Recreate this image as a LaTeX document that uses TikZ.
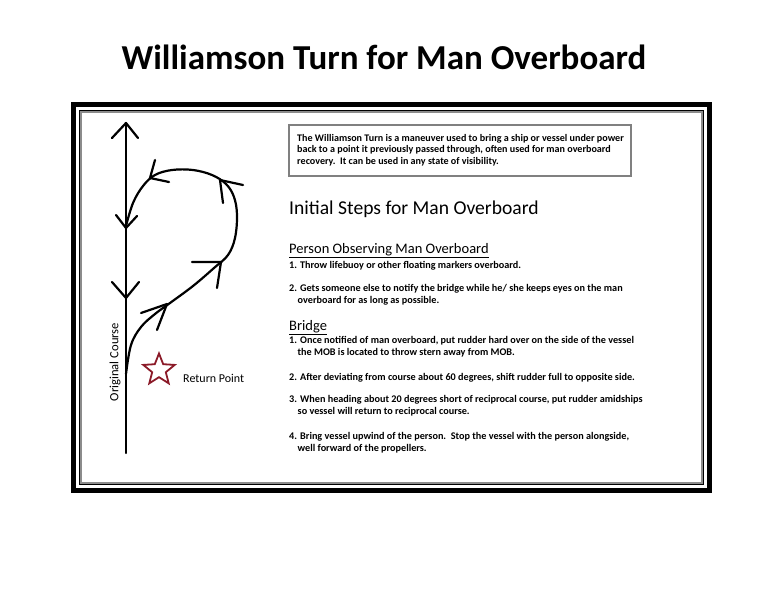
\documentclass[tikz,border=0pt]{standalone}
\usepackage{fontspec}
\setmainfont{Carlito}
\usetikzlibrary{shapes.geometric}

\definecolor{starred}{RGB}{139,26,40}
\definecolor{boxgray}{RGB}{128,128,128}

\tikzset{
  txt/.style={anchor=west,inner sep=0pt,align=left,font=\fontsize{10.2}{12}\selectfont\bfseries},
  head/.style={anchor=west,inner sep=0pt},
  course/.style={line width=2.2pt,line cap=round,line join=round}
}

\newcommand{\hang}{\hspace*{8.5pt}}

\begin{document}
\begin{tikzpicture}[x=1pt,y=-1pt]
\useasboundingbox (0,0) rectangle (768,594);

% title
\node[inner sep=0pt,font=\fontsize{35}{40}\selectfont\bfseries] (title) at (384,57) {Williamson Turn for Man Overboard};

% frame
\draw[line width=5pt] (73,104.5) rectangle (709.5,490);
\draw[black!45,line width=2pt] (80.5,111.5) rectangle (702,483);
\draw[line width=0.8pt] (79,110) rectangle (703.5,484.5);

% original course line
\draw[course] (126,123)--(126,453);
\draw[course] (112,138)--(126,123)--(138,138);
\draw[course] (116,215)--(126,228)--(137,216);
\draw[course] (112,282)--(126,298)--(139,282);

% the turn
\draw[course] plot[smooth,tension=0.6] coordinates {(126,374) (131,345) (141,327) (155,314)
  (170,303) (193,286) (214,268) (228,255) (235,238) (237,215) (234,197) (226,184) (212,175)
  (193,170) (172,170) (155,175) (143,186) (133,203) (126,226)};
\draw[course] (141,313)--(167,304)--(157,330);
\draw[course] (192,262)--(221,262)--(217,288);
\draw[course] (243,185)--(220,180)--(223,203);
\draw[course] (155,160)--(150,178)--(169,182);

\node[rotate=90,inner sep=0pt,font=\fontsize{12.6}{14}\selectfont] (orig) at (115,362) {Original Course};

% return point
\node[star,star points=5,star point ratio=2.3,draw=starred,line width=1.8pt,minimum size=33pt,inner sep=0pt] (ret) at (159,370) {};
\node[head,font=\fontsize{12}{14}\selectfont] (retlbl) at (183,378) {Return Point};

% intro box
\draw[boxgray,line width=2pt] (289,125) rectangle (631,176);
\node[txt,font=\fontsize{10.1}{11.6}\selectfont\bfseries] (intro) at (297,150) {The Williamson Turn is a maneuver used to bring a ship or vessel under power\\
back to a point it previously passed through, often used for man overboard\\
recovery.\ \ It can be used in any state of visibility.};

% steps
\node[head,font=\fontsize{19.6}{22}\selectfont] (steps) at (289,209) {Initial Steps for Man Overboard};

\node[head,font=\fontsize{14.5}{17}\selectfont] (person) at (289,251) {\underline{Person Observing Man Overboard}};
\node[txt] (p1) at (289,266) {1. Throw lifebuoy or other floating markers overboard.};
\node[txt] (p2) at (289,295) {2. Gets someone else to notify the bridge while he/ she keeps eyes on the man\\
\hang overboard for as long as possible.};

\node[head,font=\fontsize{14.5}{17}\selectfont] (bridge) at (289,328) {\underline{Bridge}};
\node[txt] (b1) at (289,347) {1. Once notified of man overboard, put rudder hard over on the side of the vessel\\
\hang the MOB is located to throw stern away from MOB.};
\node[txt] (b2) at (289,378) {2. After deviating from course about 60 degrees, shift rudder full to opposite side.};
\node[txt] (b3) at (289,406) {3. When heading about 20 degrees short of reciprocal course, put rudder amidships\\
\hang so vessel will return to reciprocal course.};
\node[txt] (b4) at (289,443) {4. Bring vessel upwind of the person.\ \ Stop the vessel with the person alongside,\\
\hang well forward of the propellers.};

\end{tikzpicture}
\end{document}
